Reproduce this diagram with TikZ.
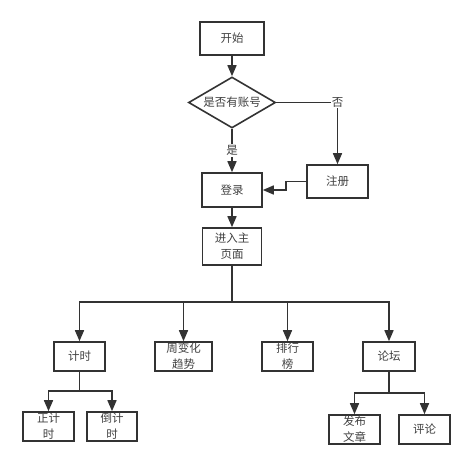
\documentclass[tikz,border=0pt]{standalone}
\usepackage{fontspec}
\newfontfamily\cjk{Noto Sans CJK SC}
\usetikzlibrary{arrows.meta,shapes.geometric}
\begin{document}
\begin{tikzpicture}[x=1pt, y=-1pt, font=\cjk\fontsize{11.5}{16}\selectfont, line join=miter,
	box/.style={draw=black!80, line width=1.6pt, text=black!75, inner sep=0pt, align=center, minimum height=29pt},
	arr/.style={draw=black!80, line width=1.6pt, -{Triangle[width=9pt,length=11pt]}},
	lbl/.style={fill=white, text=black!75, inner sep=1pt}]
	\useasboundingbox (0,0) rectangle (474,467);
	% top part
	\node[box, minimum width=64pt, minimum height=33pt] (start) at (232,38.5) {开始};
	\node[box, shape=diamond, shape aspect=1.7, minimum width=87pt, minimum height=51pt] (acct) at (232,102.5) {是否有账号};
	\node[box, minimum width=60pt, minimum height=34pt] (login) at (232,190) {登录};
	\node[box, minimum width=61pt, minimum height=33pt] (reg) at (337.5,181.5) {注册};
	\node[box, minimum width=59pt, minimum height=37pt] (home) at (232,246.5) {进入主\\页面};
	% second level
	\node[box, minimum width=51pt] (timer) at (79.5,356.5) {计时};
	\node[box, minimum width=57pt] (trend) at (183.5,356.5) {周变化\\趋势};
	\node[box, minimum width=51pt] (rank) at (287.5,356.5) {排行\\榜};
	\node[box, minimum width=52pt] (forum) at (389,356.5) {论坛};
	% third level
	\node[box, minimum width=51pt] (up) at (48.5,426.5) {正计\\时};
	\node[box, minimum width=50pt] (down) at (112,426.5) {倒计\\时};
	\node[box, minimum width=51pt] (post) at (354.5,429.5) {发布\\文章};
	\node[box, minimum width=51pt] (comment) at (424.5,429.5) {评论};
	\coordinate (bus1) at (0,302);
	\coordinate (bus2) at (0,391);
	\coordinate (bus3) at (0,393);
	% connectors
	\draw[arr] (start) -- (acct);
	\draw[arr] (acct.south) -- (login.north) node[lbl, midway]{是};
	\draw[arr] (acct.east) -| (reg.north) node[lbl, pos=0.5]{否};
	\draw[arr] (reg.west) -- ++(-20,0) |- (login.east);
	\draw[arr] (login) -- (home);
	\foreach \c in {timer,trend,rank,forum}
		\draw[arr] (home.south) |- (\c.north |- bus1) -- (\c.north);
	\foreach \c in {up,down}
		\draw[arr] (timer.south) |- (\c.north |- bus2) -- (\c.north);
	\foreach \c in {post,comment}
		\draw[arr] (forum.south) |- (\c.north |- bus3) -- (\c.north);
\end{tikzpicture}
\end{document}
